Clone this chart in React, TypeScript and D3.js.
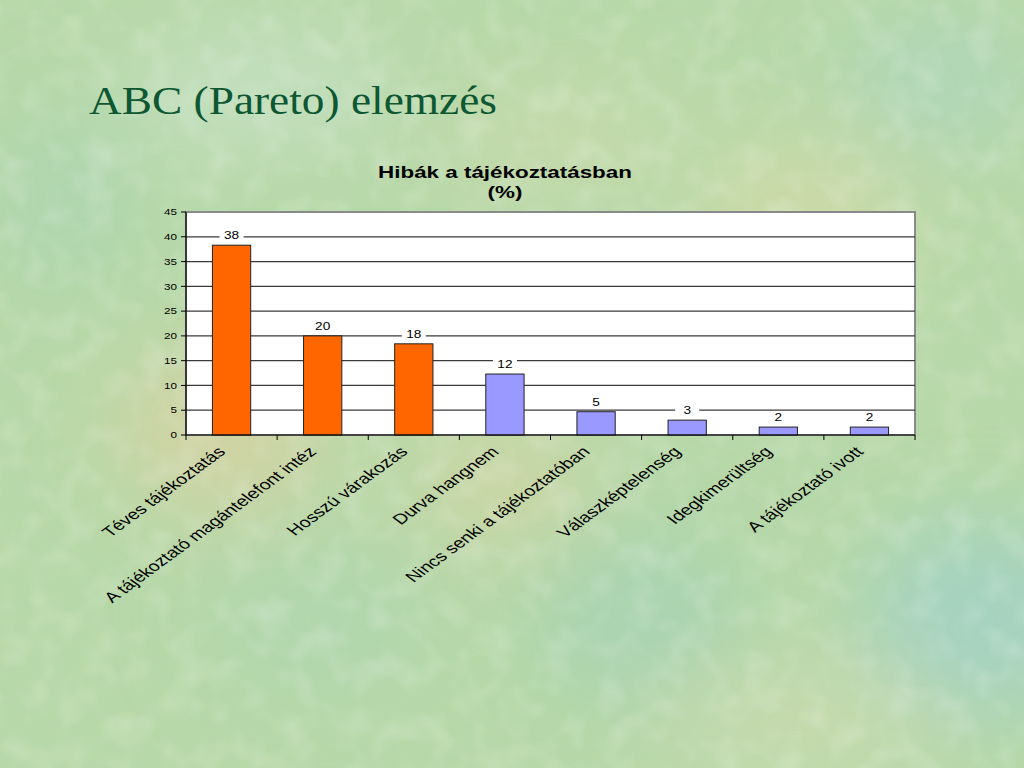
import React from "react";
import * as d3 from "d3";

const categories = [
  "Téves tájékoztatás",
  "A tájékoztató magántelefont intéz",
  "Hosszú várakozás",
  "Durva hangnem",
  "Nincs senki a tájékoztatóban",
  "Válaszképtelenség",
  "Idegkimerültség",
  "A tájékoztató ivott",
];
const values = [38.3, 20, 18.4, 12.3, 4.7, 3.0, 1.6, 1.6];
const classes = ["A", "A", "A", "B", "B", "B", "B", "B"];
const yTicks = [0, 5, 10, 15, 20, 25, 30, 35, 40, 45];
const slideTitle = "ABC (Pareto) elemzés";
const chartTitle = ["Hibák a tájékoztatásban", "(%)"];

const W = 1024;
const H = 768;
const plot = { left: 186, right: 915, top: 212, bottom: 435 };
const SX = 1.36;
const classColor: Record<string, string> = { A: "#FF6600", B: "#9999FF" };

export default function App() {
  const x = d3.scaleBand<string>().domain(categories).range([plot.left, plot.right]);
  const y = d3.scaleLinear().domain([0, 45]).range([plot.bottom, plot.top]);
  const bw = x.bandwidth() * 0.42;
  const fmt = d3.format(".0f");
  const font = "Arial, 'Liberation Sans', sans-serif";

  const boundaries = categories.map((c) => x(c) as number).concat([plot.right]);

  return (
    <svg
      width={W}
      height={H}
      style={{ position: "fixed", left: 0, top: 0 }}
      fontFamily={font}
    >
      <defs>
        <filter id="blur" x="-50%" y="-50%" width="200%" height="200%">
          <feGaussianBlur stdDeviation="45" />
        </filter>
        <filter id="tex" x="0" y="0" width="100%" height="100%">
          <feTurbulence type="fractalNoise" baseFrequency="0.035" numOctaves="2" seed="3" result="n" />
          <feColorMatrix
            in="n"
            type="matrix"
            values="0 0 0 0 1  0 0 0 0 1  0 0 0 0 1  0 0 0 -2.2 1.25"
          />
        </filter>
      </defs>
      {/* background */}
      <rect x={0} y={0} width={W} height={H} fill="#b7d8a8" />
      <g filter="url(#blur)" opacity={0.75}>
        <ellipse cx={220} cy={430} rx={110} ry={80} fill="#dcd2a2" />
        <ellipse cx={500} cy={480} rx={90} ry={60} fill="#d6d6a4" />
        <ellipse cx={800} cy={210} rx={110} ry={70} fill="#d4dba8" />
        <ellipse cx={560} cy={140} rx={120} ry={50} fill="#cfdcae" />
        <ellipse cx={260} cy={90} rx={140} ry={60} fill="#c8e2c8" />
        <ellipse cx={980} cy={620} rx={120} ry={100} fill="#9fd0c8" />
        <ellipse cx={640} cy={620} rx={110} ry={90} fill="#a6d2b4" />
        <ellipse cx={320} cy={620} rx={120} ry={80} fill="#b0d6b0" />
        <ellipse cx={60} cy={200} rx={80} ry={90} fill="#add5b2" />
        <ellipse cx={800} cy={720} rx={150} ry={50} fill="#cfdcb0" />
        <ellipse cx={940} cy={80} rx={100} ry={70} fill="#aed6bc" />
      </g>
      <rect x={0} y={0} width={W} height={H} filter="url(#tex)" opacity={0.18} />

      {/* slide title */}
      <g transform={`translate(89,114) scale(1.12,1)`}>
        <text
          fontFamily="'Times New Roman', 'Liberation Serif', serif"
          fontSize={40.5}
          fill="#0d5733"
        >
          {slideTitle}
        </text>
      </g>

      {/* chart title */}
      {chartTitle.map((t, i) => (
        <g key={t} transform={`translate(505,${178 + i * 20}) scale(1.4,1)`}>
          <text textAnchor="middle" fontWeight="bold" fontSize={16} fill="#000">
            {t}
          </text>
        </g>
      ))}

      {/* plot area */}
      <rect
        x={plot.left}
        y={plot.top}
        width={plot.right - plot.left}
        height={plot.bottom - plot.top}
        fill="#ffffff"
        stroke="#8a8a8a"
        strokeWidth={2}
      />
      {yTicks.slice(1, -1).map((t) => (
        <line
          key={t}
          x1={plot.left}
          x2={plot.right}
          y1={y(t)}
          y2={y(t)}
          stroke="#3a3a3a"
          strokeWidth={1.2}
        />
      ))}

      {/* bars */}
      {categories.map((c, i) => {
        const cx = (x(c) as number) + x.bandwidth() / 2;
        return (
          <rect
            key={c}
            x={cx - bw / 2}
            y={y(values[i])}
            width={bw}
            height={y(0) - y(values[i])}
            fill={classColor[classes[i]]}
            stroke="#222"
            strokeWidth={1}
          />
        );
      })}

      {/* data labels */}
      {categories.map((c, i) => {
        const cx = (x(c) as number) + x.bandwidth() / 2;
        const ly = y(values[i]) - 6;
        return (
          <g key={c + "l"}>
            <rect x={cx - 12} y={ly - 9} width={24} height={11} fill="#ffffff" />
            <g transform={`translate(${cx},${ly}) scale(1.3,1)`}>
              <text textAnchor="middle" fontSize={10.5} fill="#000">
                {fmt(values[i])}
              </text>
            </g>
          </g>
        );
      })}

      {/* axes */}
      <line x1={plot.left} x2={plot.left} y1={plot.top} y2={plot.bottom} stroke="#000" strokeWidth={1.2} />
      <line x1={plot.left} x2={plot.right} y1={plot.bottom} y2={plot.bottom} stroke="#000" strokeWidth={1.2} />
      {yTicks.map((t) => (
        <g key={"yt" + t}>
          <line x1={plot.left - 5} x2={plot.left} y1={y(t)} y2={y(t)} stroke="#000" strokeWidth={1} />
          <g transform={`translate(${plot.left - 9},${y(t) + 3.2}) scale(1.3,1)`}>
            <text textAnchor="end" fontSize={9} fill="#000">
              {t}
            </text>
          </g>
        </g>
      ))}
      {boundaries.map((bx, i) => (
        <line key={"xt" + i} x1={bx} x2={bx} y1={plot.bottom} y2={plot.bottom + 5} stroke="#000" strokeWidth={1} />
      ))}

      {/* category labels */}
      {categories.map((c) => {
        const cx = (x(c) as number) + x.bandwidth() / 2;
        return (
          <g key={c + "c"} transform={`translate(${cx - 10},${plot.bottom + 14}) scale(${SX},1) rotate(-45)`}>
            <text textAnchor="end" fontSize={14.5} dy="0.35em" fill="#000">
              {c}
            </text>
          </g>
        );
      })}
    </svg>
  );
}
